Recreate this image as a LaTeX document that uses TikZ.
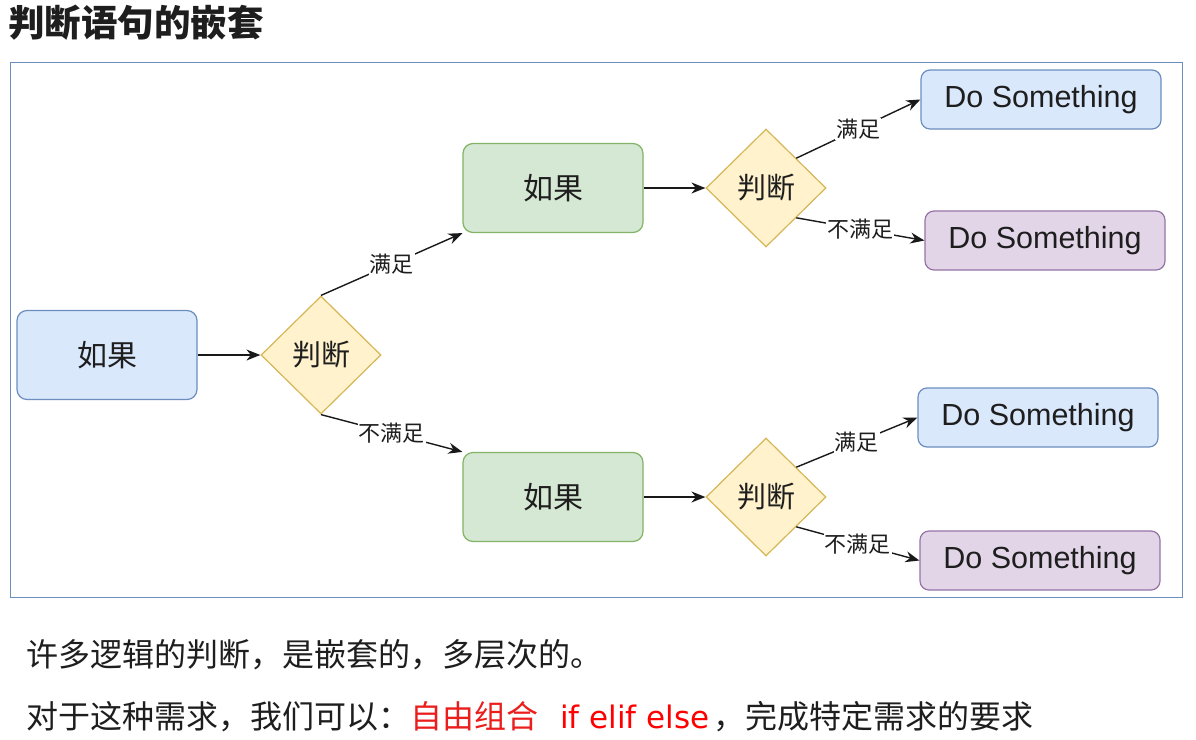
\documentclass[tikz,border=0pt]{standalone}
\usepackage{fontspec}
\setmainfont{Noto Sans CJK SC}
\newfontfamily\arial{Liberation Sans}
\newfontfamily\dejavu{DejaVu Sans}
\usetikzlibrary{shapes.geometric,arrows.meta,calc}
\definecolor{bluefill}{HTML}{DAE8FC}
\definecolor{bluedraw}{HTML}{6C8EBF}
\definecolor{greenfill}{HTML}{D5E8D4}
\definecolor{greendraw}{HTML}{82B366}
\definecolor{yelfill}{HTML}{FFF2CC}
\definecolor{yeldraw}{HTML}{D6B656}
\definecolor{purfill}{HTML}{E1D5E7}
\definecolor{purdraw}{HTML}{9673A6}
\definecolor{framecol}{RGB}{108,142,191}
\definecolor{txt}{RGB}{30,30,30}
\definecolor{redtxt}{RGB}{235,30,30}
\definecolor{redcode}{RGB}{255,0,0}
\tikzset{
  box/.style={draw, rounded corners=10pt, line width=1.2pt, minimum width=180pt, minimum height=89pt, inner sep=0pt, font=\fontsize{30}{34}\selectfont, text=txt},
  dsbox/.style={draw, rounded corners=9pt, line width=1.2pt, minimum width=240pt, minimum height=59pt, inner sep=0pt, font=\arial\fontsize{30.5}{34}\selectfont, text=txt},
  dia/.style={diamond, draw=yeldraw, fill=yelfill, line width=1.2pt, minimum width=120pt, minimum height=118pt, inner sep=0pt, font=\fontsize{29}{32}\selectfont, text=txt},
  conn/.style={line width=1.4pt, -{Stealth[length=14pt,width=11pt]}, draw=black!90},
  lab/.style={fill=white, inner sep=1pt, font=\fontsize{22}{25}\selectfont, text=txt},
  para/.style={anchor=west, inner sep=0pt, font=\fontsize{32}{35}\selectfont, text=txt}
}
\begin{document}
\begin{tikzpicture}[x=1pt,y=-1pt]
\useasboundingbox[fill=white] (0,0) rectangle (1196,739);
% title
\node[anchor=west, inner sep=0pt, font=\bfseries\fontsize{36.5}{40}\selectfont, text=txt] (title) at (8,23) {判断语句的嵌套};
% frame
\draw[framecol, line width=1pt] (10,62) rectangle (1182,597);
% nodes
\node[box, draw=bluedraw, fill=bluefill] (b1) at (107,355) {如果};
\node[dia] (d1) at (321,355) {判断};
\node[box, draw=greendraw, fill=greenfill] (g1) at (553,188) {如果};
\node[box, draw=greendraw, fill=greenfill] (g2) at (553,497) {如果};
\node[dia] (d2) at (766,188) {判断};
\node[dia] (d3) at (766,497) {判断};
\node[dsbox, draw=bluedraw, fill=bluefill] (s1) at (1041,99.5) {Do Something};
\node[dsbox, draw=purdraw, fill=purfill] (s2) at (1045,240.5) {Do Something};
\node[dsbox, draw=bluedraw, fill=bluefill] (s3) at (1038,417.5) {Do Something};
\node[dsbox, draw=purdraw, fill=purfill] (s4) at (1040,560.5) {Do Something};
% connectors
\draw[conn] (b1.east) -- (d1.west);
\draw[conn] (d1.north) -- node[lab]{满足} (g1.south west);
\draw[conn] (d1.south) -- node[lab]{不满足} (g2.north west);
\draw[conn] (g1.east) -- (d2.west);
\draw[conn] (g2.east) -- (d3.west);
\draw[conn] ($(d2.north)!0.5!(d2.east)$) -- node[lab]{满足} (s1.west);
\draw[conn] ($(d2.south)!0.5!(d2.east)$) -- node[lab]{不满足} (s2.west);
\draw[conn] ($(d3.north)!0.5!(d3.east)$) -- node[lab]{满足} (s3.west);
\draw[conn] ($(d3.south)!0.5!(d3.east)$) -- node[lab]{不满足} (s4.west);
% bottom text
\node[para] (t1) at (26,655) {许多逻辑的判断，是嵌套的，多层次的。};
\node[para] (t2) at (26,717) {对于这种需求，我们可以：\textcolor{redtxt}{自由组合}\hspace{22pt}\textcolor{redcode}{\dejavu\fontsize{31}{34}\selectfont if elif else}\hspace{4pt}，完成特定需求的要求};
\end{tikzpicture}
\end{document}
